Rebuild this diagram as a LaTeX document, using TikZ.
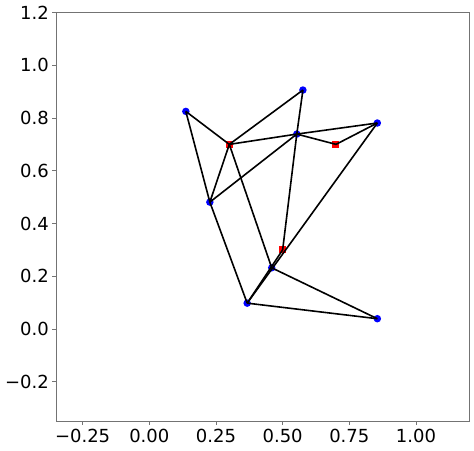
\documentclass[tikz,border=0pt]{standalone}
\usepackage{fontspec}
\setmainfont{DejaVu Sans}
\begin{document}
\begin{tikzpicture}[
    joint/.style={circle, fill=blue, inner sep=0pt, minimum size=7.5pt},
    pin/.style={rectangle, fill=red, inner sep=0pt, minimum size=7pt},
    bar/.style={black, line width=1.6pt},
    frame/.style={draw=black!55, line width=0.9pt},
    ticklabel/.style={inner sep=0pt, font=\fontsize{18}{20}\selectfont}
]
    \useasboundingbox (0,0) rectangle (474pt,450pt);
    \begin{scope}[shift={(149.3pt,121pt)}, x=266.7pt, y=263.75pt]
    % Axes frame
    \draw[frame] (-0.35,-0.35) rectangle (1.2,1.2);

    % Ticks and tick labels
    \foreach \v/\t [count=\k] in {-0.25/−0.25, 0/0.00, 0.25/0.25, 0.5/0.50, 0.75/0.75, 1/1.00} {
        \draw[frame] (\v,-0.35) -- ++(0,-4pt);
        \node[ticklabel, anchor=north] (xl\k) at ([yshift=-8pt]\v,-0.35) {\t};
    }
    \foreach \v/\t [count=\k] in {-0.2/−0.2, 0/0.0, 0.2/0.2, 0.4/0.4, 0.6/0.6, 0.8/0.8, 1/1.0, 1.2/1.2} {
        \draw[frame] (-0.35,\v) -- ++(-4pt,0);
        \node[ticklabel, anchor=east] (yl\k) at ([xshift=-7pt]-0.35,\v) {\t};
    }

    % Free joints
    \node[joint] (j1) at (0.137,0.825) {};
    \node[joint] (j2) at (0.576,0.906) {};
    \node[joint] (j3) at (0.553,0.739) {};
    \node[joint] (j4) at (0.855,0.781) {};
    \node[joint] (j5) at (0.227,0.481) {};
    \node[joint] (j6) at (0.459,0.232) {};
    \node[joint] (j7) at (0.367,0.098) {};
    \node[joint] (j8) at (0.855,0.039) {};

    % Fixed points
    \node[pin] (s1) at (0.30,0.70) {};
    \node[pin] (s2) at (0.70,0.70) {};
    \node[pin] (s3) at (0.50,0.30) {};

    % Bars
    \draw[bar] (j1.center) -- (s1.center);
    \draw[bar] (j1.center) -- (j5.center);
    \draw[bar] (s1.center) -- (j2.center);
    \draw[bar] (s1.center) -- (j3.center);
    \draw[bar] (j3.center) -- (j4.center);
    \draw[bar] (j2.center) -- (j3.center);
    \draw[bar] (j3.center) -- (s2.center);
    \draw[bar] (s2.center) -- (j4.center);
    \draw[bar] (s1.center) -- (j5.center);
    \draw[bar] (j5.center) -- (j3.center);
    \draw[bar] (s1.center) -- (j6.center);
    \draw[bar] (j3.center) -- (s3.center);
    \draw[bar] (s3.center) -- (j7.center);
    \draw[bar] (j4.center) -- (j7.center);
    \draw[bar] (j5.center) -- (j7.center);
    \draw[bar] (j6.center) -- (j8.center);
    \draw[bar] (j7.center) -- (j8.center);
    \end{scope}
\end{tikzpicture}
\end{document}
